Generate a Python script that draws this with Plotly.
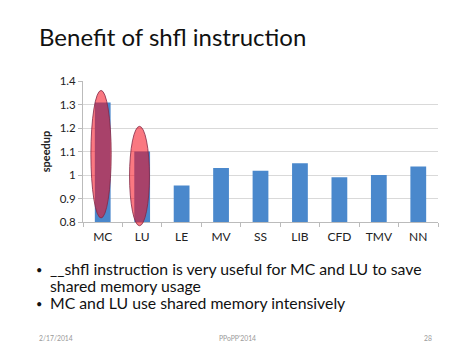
import plotly.graph_objects as go

categories = ["MC", "LU", "LE", "MV", "SS", "LIB", "CFD", "TMV", "NN"]
speedup = [1.308, 1.10, 0.955, 1.03, 1.018, 1.05, 0.99, 1.0, 1.036]
y_ticks = [0.8, 0.9, 1.0, 1.1, 1.2, 1.3, 1.4]
y_tick_text = ["0.8", "0.9", "1", "1.1", "1.2", "1.3", "1.4"]

# highlight ellipses: (category index, x offset left, x offset right, y bottom, y top)
ellipse_cat = [0, 1]
ellipse_dx0 = [-0.30, -0.32]
ellipse_dx1 = [0.215, 0.185]
ellipse_y0 = [0.817, 0.784]
ellipse_y1 = [1.36, 1.207]

y_min, y_max = 0.8, 1.4

# page body has an 8px margin; figure occupies page from (8,8)
OFF = 8
W, H = 474 - OFF, 355 - OFF
L, R, T, B = 82.7 - OFF, 36, 81 - OFF, 132.7
PW, PH = W - L - R, H - T - B


def px(page_x):
    return (page_x - OFF - L) / PW


def py(page_y):
    return 1 - (page_y - OFF - T) / PH


fig = go.Figure()
fig.add_trace(go.Bar(x=categories, y=speedup, marker_color="#4A88CC",
                     marker_line_width=0, width=0.4))

for c, d0, d1, ya, yb in zip(ellipse_cat, ellipse_dx0, ellipse_dx1, ellipse_y0, ellipse_y1):
    fig.add_shape(type="circle", xref="x", yref="paper",
                  x0=c + d0, x1=c + d1,
                  y0=(ya - y_min) / (y_max - y_min), y1=(yb - y_min) / (y_max - y_min),
                  fillcolor="rgba(245,10,25,0.55)",
                  line=dict(color="rgba(130,40,70,0.8)", width=1), layer="above")

font = "Lato, 'Open Sans', sans-serif"
fig.update_layout(
    width=W, height=H,
    margin=dict(l=L, r=R, t=T, b=B),
    paper_bgcolor="white", plot_bgcolor="white",
    showlegend=False,
    font=dict(family=font, color="#222"),
    xaxis=dict(type="category", showgrid=False, showline=True, linecolor="#BBBBBB",
               ticks="outside", tickson="boundaries", ticklen=4, tickcolor="#BBBBBB",
               tickfont=dict(size=12, color="#222"), range=[-0.5, 8.5],
               ticklabelstandoff=4),
    yaxis=dict(range=[y_min, y_max], tickvals=y_ticks, ticktext=y_tick_text,
               showgrid=True, gridcolor="#D9D9D9", gridwidth=1, showline=True,
               linecolor="#BBBBBB", ticks="outside", ticklen=4, tickcolor="#BBBBBB",
               tickfont=dict(size=11.5, color="#222"), zeroline=False,
               title=dict(text="<b>speedup</b>", font=dict(size=11, color="#222"), standoff=6)),
)

fig.add_annotation(text="Benefit of shfl instruction", xref="paper", yref="paper",
                   x=px(37), y=py(36), xanchor="left", yanchor="middle", showarrow=False,
                   font=dict(size=24, color="#111", family=font))

bullet_lines = ["__shfl instruction is very useful for MC and LU to save",
                "shared memory usage",
                "MC and LU use shared memory intensively"]
bullet_y = [268.5, 285.5, 302.5]
bullet_mark = [True, False, True]
for txt, yy, mark in zip(bullet_lines, bullet_y, bullet_mark):
    fig.add_annotation(text=txt, xref="paper", yref="paper", x=px(47.5), y=py(yy),
                       xanchor="left", yanchor="middle", showarrow=False,
                       font=dict(size=15.8, color="#111", family=font))
    if mark:
        fig.add_annotation(text="•", xref="paper", yref="paper", x=px(39), y=py(yy + 1),
                           xanchor="center", yanchor="middle", showarrow=False,
                           font=dict(size=11, color="#111", family=font))

for txt, xp, anc in [("2/17/2014", 37, "left"), ("PPoPP'2014", 237, "center"), ("28", 434, "right")]:
    fig.add_annotation(text=txt, xref="paper", yref="paper",
                       x=px(xp), y=py(339), xanchor=anc, yanchor="middle", showarrow=False,
                       font=dict(size=6.8, color="#999", family=font))

fig.write_html("out.html")
